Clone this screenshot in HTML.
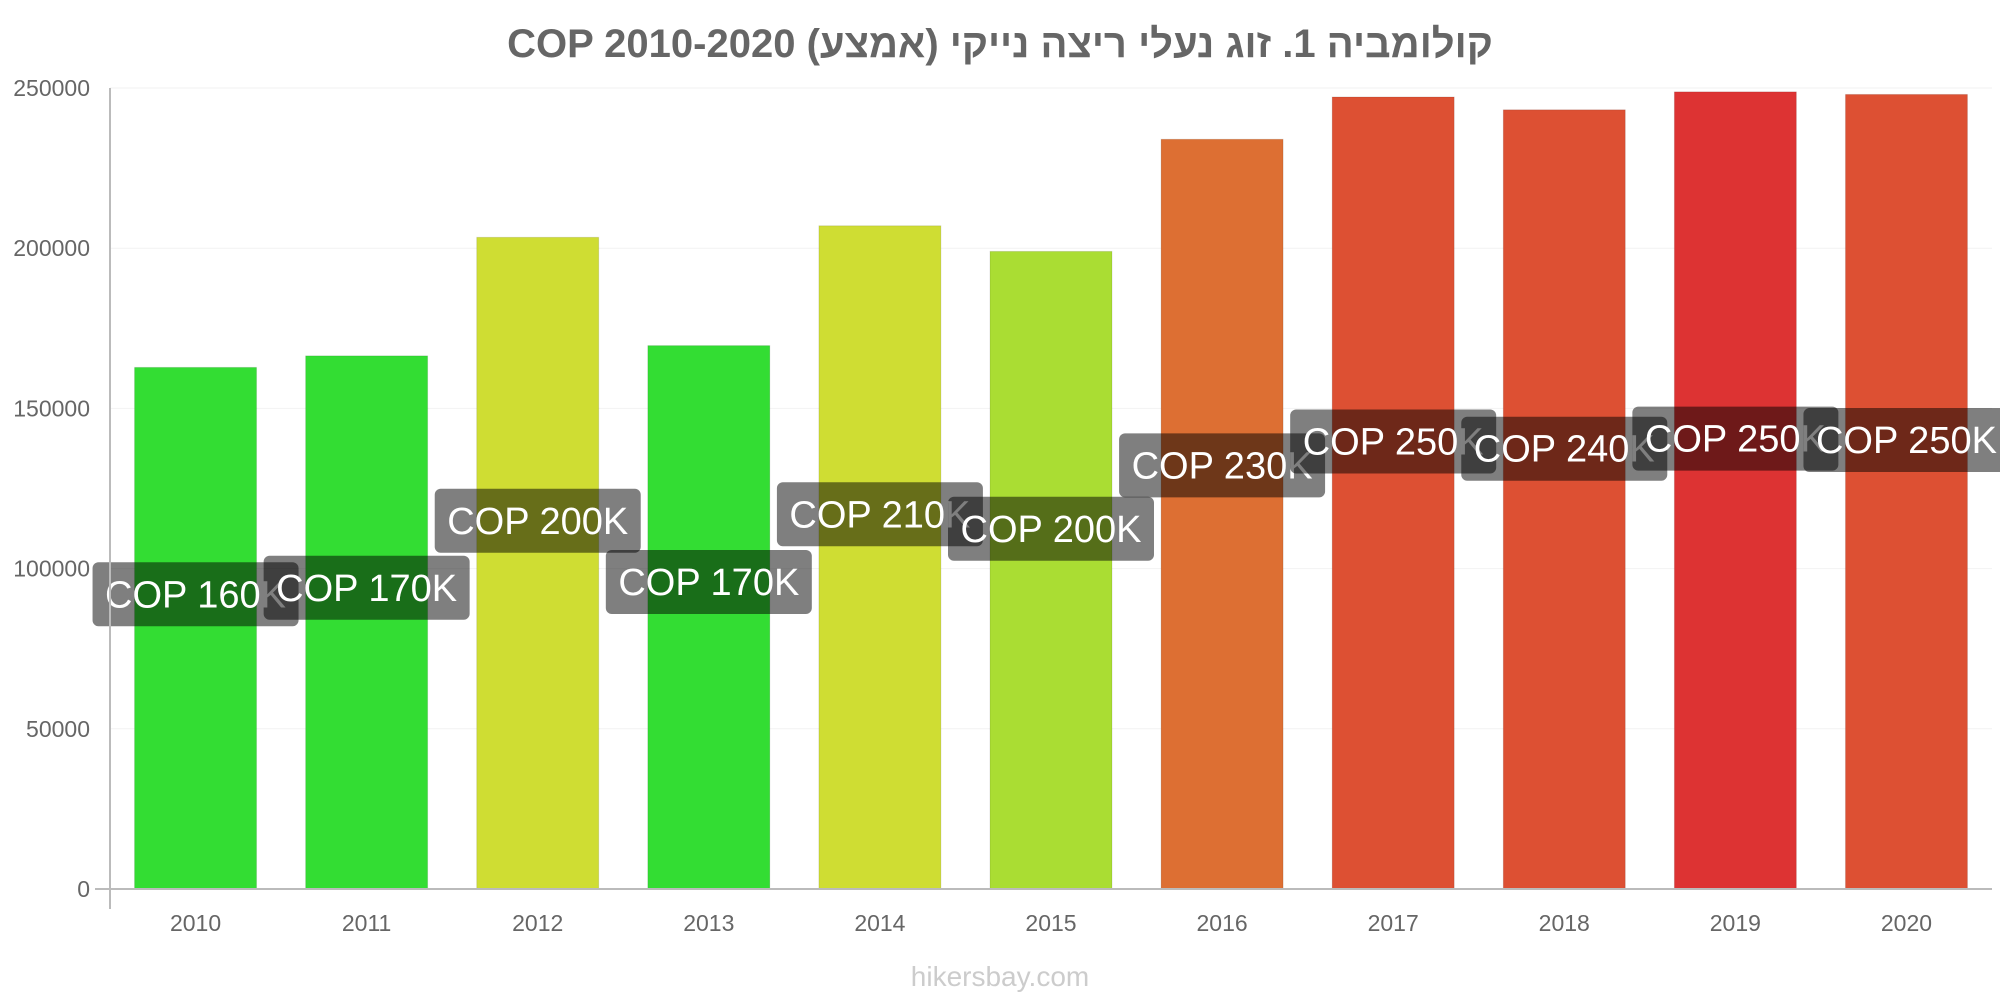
<!DOCTYPE html>
<html><head><meta charset="utf-8"><style>
body{margin:0;background:#fff;width:2000px;height:1000px;overflow:hidden}
text{font-family:"Liberation Sans","Noto Sans CJK JP",sans-serif}
</style></head><body>
<svg id="chart" width="2000" height="1000" xmlns="http://www.w3.org/2000/svg">
<text x="1000" y="57" text-anchor="middle" direction="rtl" font-size="40" font-weight="bold" fill="#666">קולומביה 1. זוג נעלי ריצה נייקי (אמצע) COP 2010-2020</text>
<g id="grid"></g><g id="bars"></g><g id="labels"></g><g id="axes"></g>
<text x="1000" y="986" text-anchor="middle" font-size="28" fill="#ccc">hikersbay.com</text>
</svg>
<script>
const categories=["2010","2011","2012","2013","2014","2015","2016","2017","2018","2019","2020"];
const values=[162800,166400,203400,169600,207000,199000,234000,247200,243200,248800,248000];
const valueLabels=["COP 160K","COP 170K","COP 200K","COP 170K","COP 210K","COP 200K","COP 230K","COP 250K","COP 240K","COP 250K","COP 250K"];
const colors=["#33dd33","#33dd33","#cfdd33","#33dd33","#cfdd33","#aadd33","#dd6f33","#dd5033","#dd5033","#dd3333","#dd5033"];
const yTicks=[0,50000,100000,150000,200000,250000];
const NS="http://www.w3.org/2000/svg";
const X0=110,X1=1992,Y0=889,Y1=88,MAX=250000;
const band=(X1-X0)/categories.length;
const y=v=>Y0-(v/MAX)*(Y0-Y1);
const xc=i=>X0+band*(i+0.5);
function mk(t,a,p){const e=document.createElementNS(NS,t);for(const k in a)e.setAttribute(k,a[k]);p.appendChild(e);return e;}
const grid=document.getElementById('grid'),axes=document.getElementById('axes'),bars=document.getElementById('bars'),labels=document.getElementById('labels');
yTicks.forEach(t=>{
 const l=mk('line',{x1:X0,x2:X1,y1:y(t),y2:y(t),stroke:'#f2f2f2','stroke-width':1},grid);
 
 
 const tx=mk('text',{x:X0-20,y:y(t)+8,'text-anchor':'end','font-size':23,fill:'#666'},axes);
 tx.textContent=t;
 
 
});
const ya=mk('line',{x1:X0,x2:X0,y1:Y1,y2:Y0+20,stroke:'#bbb','stroke-width':2},axes);


const xa=mk('line',{x1:X0-15,x2:X1,y1:Y0,y2:Y0,stroke:'#bbb','stroke-width':2},axes);


const bw=122;
categories.forEach((c,i)=>{
 const r=mk('rect',{x:xc(i)-bw/2,y:y(values[i]),width:bw,height:Y0-y(values[i]),fill:colors[i],stroke:'rgba(0,0,0,0.1)','stroke-width':1},bars);
 
 
 const tx=mk('text',{x:xc(i),y:931,'text-anchor':'middle','font-size':23,fill:'#666'},axes);
 tx.textContent=c;
 
 
});
categories.forEach((c,i)=>{
 const cy=y(values[i]*0.565);
 const bx=mk('rect',{x:xc(i)-103,y:cy-32,width:206,height:64,rx:6,fill:'rgba(0,0,0,0.5)'},labels);
 
 
 const tx=mk('text',{x:xc(i),y:cy+13,'text-anchor':'middle','font-size':38,fill:'#fff'},labels);
 tx.textContent=valueLabels[i];
 
 
});
</script>
</body></html>
